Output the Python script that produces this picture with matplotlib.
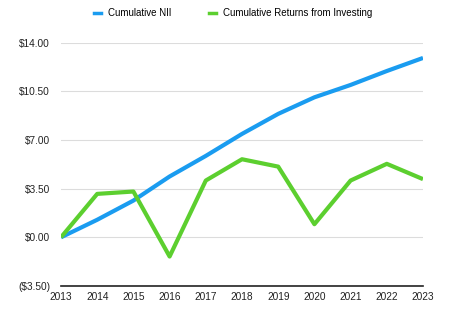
import matplotlib.pyplot as plt
from matplotlib.lines import Line2D

plt.rcParams['font.family'] = ['Liberation Sans', 'DejaVu Sans']

years = [2013, 2014, 2015, 2016, 2017, 2018, 2019, 2020, 2021, 2022, 2023]
nii = [0.0, 1.26, 2.64, 4.37, 5.85, 7.43, 8.87, 10.06, 10.95, 11.95, 12.89]
returns = [0.0, 3.12, 3.29, -1.38, 4.08, 5.61, 5.08, 0.94, 4.08, 5.28, 4.18]
yticks = [-3.5, 0.0, 3.5, 7.0, 10.5, 14.0]
ytick_labels = ['($3.50)', '$0.00', '$3.50', '$7.00', '$10.50', '$14.00']

blue = '#1a9cf0'
green = '#5ccf2f'

fig = plt.figure(figsize=(4.74, 3.25), dpi=100)
ax = fig.add_axes([61 / 474, 1 - 286 / 325, (423 - 61) / 474, (286 - 42.5) / 325])

ax.plot(years, nii, color=blue, lw=3, solid_capstyle='butt', solid_joinstyle='round', zorder=3)
ax.plot(years, returns, color=green, lw=3, solid_capstyle='butt', solid_joinstyle='round', zorder=3)

ax.set_xlim(2013, 2023)
ax.set_ylim(-3.5, 14)
ax.set_yticks(yticks)
ax.set_yticklabels(ytick_labels)
ax.set_xticks(years)
ax.set_xticklabels([str(y) for y in years])

ax.grid(axis='y', color='#dcdcdc', lw=0.8)
ax.set_axisbelow(True)
for side in ['top', 'right', 'left']:
    ax.spines[side].set_visible(False)
ax.spines['bottom'].set_color('#222222')
ax.spines['bottom'].set_linewidth(1.2)
ax.tick_params(axis='both', length=0, labelsize=7.3, colors='#222222')
ax.tick_params(axis='x', pad=4)
ax.tick_params(axis='y', pad=8)

handles = [Line2D([], [], color=blue, lw=2.5),
           Line2D([], [], color=green, lw=2.5)]
fig.legend(handles, ['Cumulative NII', 'Cumulative Returns from Investing'],
           loc='center', bbox_to_anchor=(233 / 474, 1 - 13 / 325), ncol=2, frameon=False,
           fontsize=7, handlelength=0.75, handletextpad=0.7, columnspacing=3.8)

fig.savefig('out.png', dpi=100)
